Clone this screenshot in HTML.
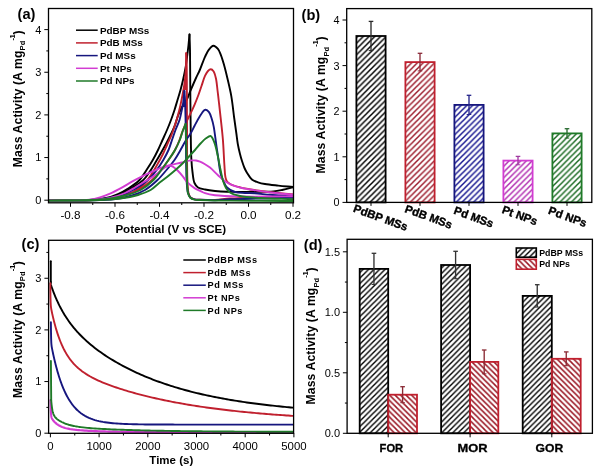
<!DOCTYPE html>
<html><head><meta charset="utf-8"><style>
html,body{margin:0;padding:0;background:#fff;}
svg{display:block;will-change:transform;}
text{font-family:"Liberation Sans",sans-serif;}
</style></head><body>
<svg width="600" height="470" viewBox="0 0 600 470">
<rect x="0" y="0" width="600" height="470" fill="#fff"/>
<defs>
<clipPath id="ca"><rect x="48.5" y="8.5" width="245" height="194.3"/></clipPath>
<clipPath id="cc"><rect x="48.6" y="240.3" width="245" height="193"/></clipPath>
</defs>
<g clip-path="url(#ca)" fill="none" stroke-linejoin="round" stroke-linecap="round">
<path d="M48.50,200.60C59.00,200.53 70.69,200.64 80.00,200.40C87.42,200.21 94.49,200.04 100.00,199.50C103.92,199.12 106.58,198.89 110.00,198.00C113.80,197.01 117.90,195.35 121.70,193.60C125.54,191.83 129.29,189.68 132.90,187.40C136.52,185.11 140.53,182.66 143.40,179.90C145.92,177.47 147.53,174.84 149.50,172.00C151.64,168.91 153.69,165.35 155.70,162.00C157.69,158.68 159.65,155.25 161.50,152.00C163.24,148.93 164.91,146.02 166.50,143.00C168.07,140.02 169.58,137.02 171.00,134.00C172.41,131.02 173.80,128.11 175.00,125.00C176.24,121.78 177.07,118.11 178.30,115.00C179.42,112.15 180.59,109.52 182.00,107.00C183.37,104.56 185.24,102.65 186.60,100.10C188.11,97.27 189.07,94.06 190.50,90.70C192.16,86.78 194.31,81.73 196.00,78.00C197.36,75.01 198.48,73.03 199.80,70.00C201.48,66.13 203.37,60.30 205.10,56.60C206.39,53.85 207.38,51.49 208.90,49.60C210.21,47.97 211.87,45.77 213.40,45.70C214.87,45.63 216.68,47.45 217.90,48.90C219.29,50.54 220.04,52.88 221.00,55.30C222.18,58.27 223.18,61.89 224.20,65.50C225.33,69.51 226.32,73.67 227.40,78.30C228.67,83.74 230.20,89.84 231.30,96.10C232.51,103.00 233.30,111.39 234.20,118.00C234.95,123.47 235.66,128.39 236.30,133.00C236.85,136.95 237.17,140.43 237.80,144.00C238.41,147.43 239.24,150.97 240.00,154.00C240.64,156.55 241.25,158.68 242.00,161.00C242.75,163.35 243.58,165.89 244.50,168.00C245.30,169.84 246.00,171.25 247.10,173.00C248.45,175.15 250.21,178.23 252.20,179.80C253.92,181.15 255.95,181.61 258.00,182.30C260.19,183.03 262.28,183.51 265.00,184.00C268.71,184.67 273.75,185.11 278.30,185.60C283.07,186.11 288.10,186.53 293.00,187.00" stroke="#000" stroke-width="1.9"/>
<path d="M293.00,187.30C289.67,188.10 286.30,189.01 283.00,189.70C279.80,190.37 277.39,191.02 273.50,191.40C267.43,191.99 257.79,191.73 250.00,191.80C242.29,191.87 233.43,192.01 227.00,191.80C222.35,191.65 218.81,191.41 215.00,191.00C211.51,190.62 208.02,190.15 205.00,189.50C202.44,188.94 199.79,188.71 198.00,187.50C196.41,186.43 195.38,184.97 194.50,183.00C193.27,180.25 193.02,175.90 192.50,172.00C191.92,167.63 191.59,163.47 191.30,158.00C190.89,150.27 190.86,140.16 190.70,130.00C190.51,117.85 190.42,103.33 190.30,90.00C190.18,76.67 190.20,60.23 190.00,50.00C189.87,43.63 189.67,39.67 189.50,34.50" stroke="#000" stroke-width="1.9"/>
<path d="M189.50,34.50C189.17,38.00 188.87,41.54 188.50,45.00C188.14,48.38 187.76,51.45 187.30,55.00C186.78,59.05 186.23,63.77 185.50,68.00C184.79,72.09 183.87,76.19 183.00,80.00C182.20,83.49 181.41,86.68 180.50,90.00C179.58,93.34 178.50,96.67 177.50,100.00C176.50,103.33 175.58,106.68 174.50,110.00C173.41,113.35 172.24,116.68 171.00,120.00C169.75,123.35 168.41,126.68 167.00,130.00C165.58,133.35 164.00,136.67 162.50,140.00C161.00,143.33 159.60,146.69 158.00,150.00C156.37,153.36 154.69,156.71 152.80,160.00C150.86,163.37 148.70,166.69 146.50,170.00C144.27,173.36 142.34,177.04 139.50,180.00C136.55,183.07 132.63,185.64 129.00,188.00C125.46,190.30 121.90,192.31 118.00,194.00C113.92,195.77 109.86,197.28 105.00,198.30C99.11,199.54 92.67,199.79 85.00,200.20C74.66,200.75 60.67,200.47 48.50,200.60" stroke="#000" stroke-width="1.9"/>
<path d="M48.50,200.60C59.00,200.53 70.69,200.62 80.00,200.40C87.42,200.23 93.35,200.25 100.00,199.60C106.69,198.95 113.59,198.14 120.00,196.50C126.24,194.91 132.55,192.86 138.00,190.00C143.16,187.29 148.01,183.56 152.00,180.00C155.53,176.85 158.21,173.40 161.00,170.00C163.69,166.73 166.14,163.37 168.50,160.00C170.80,156.70 173.14,153.41 175.00,150.00C176.78,146.73 178.16,143.36 179.50,140.00C180.82,136.69 181.70,133.32 183.00,130.00C184.33,126.62 186.01,122.91 187.40,119.90C188.55,117.42 189.57,115.58 190.70,113.20C191.97,110.52 193.34,107.56 194.60,104.60C195.91,101.50 197.23,98.16 198.40,95.00C199.52,91.96 200.42,89.10 201.50,86.00C202.65,82.68 203.81,78.41 205.10,75.70C206.02,73.77 206.89,72.10 208.00,71.00C208.85,70.15 209.89,69.27 210.80,69.30C211.72,69.33 212.75,70.19 213.50,71.20C214.63,72.72 215.26,75.56 215.90,78.30C216.74,81.89 217.08,86.82 217.60,91.00C218.11,95.05 218.52,98.82 219.00,103.00C219.52,107.58 220.03,112.08 220.60,117.40C221.31,124.02 222.28,132.03 222.90,139.70C223.56,147.86 223.91,158.12 224.40,165.00C224.74,169.74 224.75,173.99 225.40,177.00C225.81,178.89 226.09,180.26 227.00,181.50C227.94,182.77 229.31,183.63 231.00,184.50C233.32,185.69 236.41,186.43 240.00,187.30C245.17,188.56 252.80,189.75 259.20,190.70C265.56,191.65 272.35,192.34 278.30,193.00C283.52,193.58 288.10,194.00 293.00,194.50" stroke="#c0202e" stroke-width="1.9"/>
<path d="M293.00,196.50C282.00,196.73 270.74,196.85 260.00,197.20C249.76,197.53 238.28,197.91 230.00,198.50C224.14,198.92 220.01,199.78 215.00,200.00C210.01,200.22 203.77,200.00 200.00,199.80C197.71,199.68 196.16,199.73 194.50,199.30C193.03,198.91 191.49,198.50 190.50,197.50C189.45,196.44 189.00,194.94 188.50,193.00C187.69,189.84 187.67,185.92 187.40,180.00C186.82,167.30 187.13,140.00 187.00,120.00C186.87,100.00 186.93,70.13 186.60,60.00C186.49,56.56 186.33,55.40 186.20,53.10" stroke="#c0202e" stroke-width="1.9"/>
<path d="M186.20,53.10C186.13,57.07 186.15,61.21 186.00,65.00C185.87,68.48 185.68,71.67 185.40,75.00C185.12,78.34 184.78,81.67 184.30,85.00C183.82,88.34 183.13,91.67 182.50,95.00C181.87,98.34 181.25,101.68 180.50,105.00C179.75,108.34 178.91,111.68 178.00,115.00C177.08,118.34 176.08,121.68 175.00,125.00C173.91,128.35 172.82,131.69 171.50,135.00C170.16,138.36 168.50,141.67 167.00,145.00C165.50,148.33 164.15,151.70 162.50,155.00C160.82,158.37 158.91,161.68 157.00,165.00C155.07,168.35 153.27,171.74 151.00,175.00C148.63,178.42 146.04,182.14 143.00,185.00C140.03,187.79 136.70,190.11 133.00,192.00C129.08,194.00 124.86,195.29 120.00,196.50C114.11,197.96 106.69,198.95 100.00,199.60C93.35,200.25 87.42,200.23 80.00,200.40C70.69,200.62 59.00,200.53 48.50,200.60" stroke="#c0202e" stroke-width="1.9"/>
<polygon points="186.2,53.1 186.0,65 185.4,75 184.3,85 183.6,90 186.9,90 186.8,75 186.6,60" fill="#c0202e" stroke="none"/>
<path d="M48.50,200.60C62.33,200.53 77.91,200.77 90.00,200.40C99.39,200.11 107.50,199.98 115.00,199.00C121.24,198.19 126.79,197.12 132.00,195.50C136.70,194.04 140.87,192.46 145.00,190.00C149.40,187.38 153.80,183.49 157.50,180.00C160.89,176.80 163.64,173.38 166.50,170.00C169.30,166.71 172.13,163.42 174.50,160.00C176.77,156.74 178.62,153.26 180.50,150.00C182.27,146.94 183.75,143.85 185.50,141.00C187.16,138.30 189.16,135.91 190.70,133.30C192.18,130.80 193.21,128.31 194.60,125.70C196.10,122.89 197.72,119.67 199.40,117.00C200.93,114.57 202.95,111.24 204.20,110.30C204.73,109.90 205.05,109.73 205.60,109.80C206.51,109.92 208.05,111.01 209.00,112.20C210.26,113.78 211.02,116.64 211.80,119.00C212.60,121.43 213.10,123.52 213.70,126.60C214.61,131.23 215.39,138.58 216.20,144.20C216.95,149.37 217.79,154.77 218.40,159.10C218.87,162.45 219.13,165.22 219.60,168.00C220.01,170.48 220.37,172.89 221.00,175.00C221.55,176.83 222.16,178.19 223.00,180.00C224.06,182.27 225.06,185.52 227.00,187.50C229.01,189.56 232.08,191.08 235.00,192.00C238.06,192.97 241.71,192.78 245.00,193.00C248.18,193.21 250.88,193.07 254.40,193.30C258.95,193.59 264.29,194.31 270.00,194.80C276.92,195.39 285.33,195.93 293.00,196.50" stroke="#16167e" stroke-width="1.9"/>
<path d="M293.00,197.80C282.00,198.03 270.74,198.24 260.00,198.50C249.76,198.75 238.28,198.94 230.00,199.30C224.14,199.55 220.00,200.12 215.00,200.20C210.00,200.28 203.77,199.99 200.00,199.80C197.71,199.69 196.18,199.83 194.50,199.40C192.97,199.01 191.37,198.52 190.30,197.50C189.18,196.43 188.58,194.96 188.00,193.00C187.06,189.85 186.95,185.75 186.60,180.00C185.91,168.75 186.11,144.55 185.80,130.00C185.56,118.73 185.33,107.08 185.00,100.00C184.82,96.12 184.60,94.00 184.40,91.00" stroke="#16167e" stroke-width="1.9"/>
<path d="M184.40,91.00C184.20,93.00 184.02,94.92 183.80,97.00C183.56,99.24 183.35,101.76 183.00,104.00C182.67,106.08 182.28,107.75 181.80,110.00C181.17,112.91 180.53,116.71 179.50,120.00C178.44,123.37 176.75,126.65 175.50,130.00C174.26,133.32 173.17,136.67 172.00,140.00C170.83,143.33 169.92,146.72 168.50,150.00C167.04,153.39 165.23,156.72 163.30,160.00C161.31,163.39 159.17,166.75 156.70,170.00C154.10,173.42 151.41,176.95 148.00,180.00C144.28,183.33 139.62,186.43 135.00,189.00C130.30,191.61 125.46,193.82 120.00,195.50C113.91,197.37 106.69,198.48 100.00,199.30C93.36,200.11 87.42,200.17 80.00,200.40C70.69,200.69 59.00,200.53 48.50,200.60" stroke="#16167e" stroke-width="1.9"/>
<polygon points="184.4,91 183.8,97 183.0,104 182.4,107 185.6,107 185.3,100 184.9,94" fill="#16167e" stroke="none"/>
<path d="M48.50,200.60C59.00,200.53 72.43,200.65 80.00,200.40C84.27,200.26 86.69,200.31 90.00,199.80C93.36,199.28 96.69,198.32 100.00,197.30C103.36,196.26 106.60,195.07 110.00,193.60C113.72,191.99 117.62,189.94 121.40,187.90C125.26,185.81 129.07,183.31 132.90,181.20C136.63,179.15 140.43,177.21 144.10,175.40C147.59,173.69 151.21,172.01 154.40,170.60C157.11,169.40 159.32,168.33 162.00,167.40C164.87,166.41 167.95,165.69 171.10,164.90C174.47,164.05 178.77,163.23 181.60,162.50C183.55,162.00 184.81,161.45 186.50,161.10C188.27,160.74 190.31,160.49 192.00,160.40C193.44,160.33 194.68,160.30 196.00,160.50C197.35,160.70 198.62,161.06 200.00,161.60C201.61,162.23 203.36,163.22 205.00,164.20C206.70,165.21 208.20,166.15 210.00,167.60C212.43,169.56 215.39,172.85 218.00,175.20C220.38,177.35 222.34,179.43 225.00,181.20C227.93,183.15 231.59,184.96 235.00,186.20C238.27,187.39 241.37,187.87 245.00,188.60C249.26,189.46 253.97,190.17 259.00,190.90C264.84,191.75 272.03,192.66 278.00,193.30C283.29,193.86 288.00,194.17 293.00,194.60" stroke="#d23cd2" stroke-width="1.9"/>
<path d="M293.00,196.30C285.33,196.37 277.83,196.47 270.00,196.50C261.84,196.54 253.71,196.67 245.00,196.50C235.45,196.31 222.29,196.21 215.00,195.30C210.75,194.77 207.40,193.99 205.00,193.20C203.57,192.73 203.01,192.32 201.70,191.70C199.76,190.77 196.83,189.60 194.50,188.10C191.98,186.48 189.20,184.27 187.20,182.20C185.47,180.41 184.49,178.44 183.00,176.60C181.46,174.70 179.80,172.68 178.10,171.00C176.52,169.44 174.87,167.70 173.20,166.80C171.83,166.06 170.43,165.46 169.00,165.60C167.37,165.76 165.75,167.06 164.00,168.20C161.80,169.64 159.37,172.06 157.00,173.80C154.70,175.49 152.36,177.04 150.00,178.50C147.69,179.93 145.40,181.07 143.00,182.50C140.41,184.05 137.84,185.83 135.00,187.50C131.88,189.33 128.75,191.36 125.00,193.00C120.58,194.93 115.43,196.80 110.00,198.00C103.88,199.36 97.89,199.82 90.00,200.30C78.68,200.99 62.33,200.50 48.50,200.60" stroke="#d23cd2" stroke-width="1.9"/>
<path d="M48.50,200.60C64.00,200.47 81.89,200.70 95.00,200.20C104.62,199.83 112.38,199.50 120.00,198.50C126.52,197.65 132.60,196.58 138.00,195.00C142.64,193.64 147.08,192.06 150.60,190.00C153.55,188.27 155.40,186.06 158.00,184.00C160.84,181.74 164.02,179.40 167.00,177.00C170.02,174.57 173.22,171.95 176.00,169.50C178.51,167.29 180.80,165.21 183.00,163.00C185.12,160.87 187.00,158.67 189.00,156.50C191.00,154.33 193.02,152.23 195.00,150.00C197.02,147.73 199.04,145.06 201.00,143.00C202.69,141.23 204.29,139.50 206.00,138.30C207.47,137.27 209.36,135.79 210.50,136.00C211.38,136.16 211.86,137.17 212.50,138.20C213.55,139.90 214.52,142.80 215.40,145.70C216.55,149.49 217.50,154.86 218.40,159.10C219.21,162.92 219.85,166.45 220.60,170.00C221.32,173.41 221.84,176.89 222.80,180.00C223.68,182.85 224.65,185.81 226.00,188.00C227.13,189.83 228.16,191.27 230.00,192.50C232.44,194.14 236.03,195.12 240.00,196.00C245.46,197.21 252.49,197.49 260.00,198.00C269.62,198.66 282.00,198.80 293.00,199.20" stroke="#1f7a28" stroke-width="1.9"/>
<path d="M293.00,201.00C282.00,200.93 270.74,200.87 260.00,200.80C249.76,200.73 238.28,200.66 230.00,200.60C224.14,200.56 220.00,200.60 215.00,200.50C210.00,200.40 203.77,200.17 200.00,200.00C197.72,199.90 196.19,200.15 194.50,199.70C192.90,199.28 191.18,198.61 190.10,197.50C189.01,196.38 188.51,194.95 188.00,193.00C187.17,189.84 187.27,185.52 187.00,180.00C186.53,170.32 186.50,150.33 186.20,140.00C186.01,133.46 185.80,129.33 185.60,124.00" stroke="#1f7a28" stroke-width="1.9"/>
<path d="M185.60,124.00C184.53,126.67 183.37,129.32 182.40,132.00C181.44,134.65 180.91,137.22 179.80,140.00C178.52,143.19 176.84,146.72 175.00,150.00C173.09,153.40 170.76,156.69 168.50,160.00C166.20,163.36 163.78,166.69 161.30,170.00C158.78,173.36 156.67,176.85 153.50,180.00C149.90,183.58 145.25,187.42 140.50,190.00C135.75,192.59 130.56,194.00 125.00,195.50C118.82,197.17 112.07,198.48 105.00,199.30C97.16,200.21 88.82,200.18 80.00,200.40C70.11,200.65 59.00,200.53 48.50,200.60" stroke="#1f7a28" stroke-width="1.9"/>
</g>
<rect x="48.50" y="8.50" width="245.00" height="194.30" stroke="#000" fill="none" stroke-width="1.3" />
<line x1="70.50" y1="202.80" x2="70.50" y2="206.80" stroke="#000" stroke-width="1" />
<text x="70.50" y="219.00" font-size="11.7" text-anchor="middle" font-weight="normal" fill="#000" >-0.8</text>
<line x1="92.75" y1="202.80" x2="92.75" y2="205.00" stroke="#000" stroke-width="1" />
<line x1="115.00" y1="202.80" x2="115.00" y2="206.80" stroke="#000" stroke-width="1" />
<text x="115.00" y="219.00" font-size="11.7" text-anchor="middle" font-weight="normal" fill="#000" >-0.6</text>
<line x1="137.25" y1="202.80" x2="137.25" y2="205.00" stroke="#000" stroke-width="1" />
<line x1="159.50" y1="202.80" x2="159.50" y2="206.80" stroke="#000" stroke-width="1" />
<text x="159.50" y="219.00" font-size="11.7" text-anchor="middle" font-weight="normal" fill="#000" >-0.4</text>
<line x1="181.75" y1="202.80" x2="181.75" y2="205.00" stroke="#000" stroke-width="1" />
<line x1="204.00" y1="202.80" x2="204.00" y2="206.80" stroke="#000" stroke-width="1" />
<text x="204.00" y="219.00" font-size="11.7" text-anchor="middle" font-weight="normal" fill="#000" >-0.2</text>
<line x1="226.25" y1="202.80" x2="226.25" y2="205.00" stroke="#000" stroke-width="1" />
<line x1="248.50" y1="202.80" x2="248.50" y2="206.80" stroke="#000" stroke-width="1" />
<text x="248.50" y="219.00" font-size="11.7" text-anchor="middle" font-weight="normal" fill="#000" >0.0</text>
<line x1="270.75" y1="202.80" x2="270.75" y2="205.00" stroke="#000" stroke-width="1" />
<line x1="293.00" y1="202.80" x2="293.00" y2="206.80" stroke="#000" stroke-width="1" />
<text x="293.00" y="219.00" font-size="11.7" text-anchor="middle" font-weight="normal" fill="#000" >0.2</text>
<line x1="44.30" y1="200.20" x2="48.50" y2="200.20" stroke="#000" stroke-width="1" />
<text x="41.30" y="204.10" font-size="11" text-anchor="end" font-weight="normal" fill="#000" >0</text>
<line x1="46.30" y1="178.88" x2="48.50" y2="178.88" stroke="#000" stroke-width="1" />
<line x1="44.30" y1="157.55" x2="48.50" y2="157.55" stroke="#000" stroke-width="1" />
<text x="41.30" y="161.45" font-size="11" text-anchor="end" font-weight="normal" fill="#000" >1</text>
<line x1="46.30" y1="136.22" x2="48.50" y2="136.22" stroke="#000" stroke-width="1" />
<line x1="44.30" y1="114.90" x2="48.50" y2="114.90" stroke="#000" stroke-width="1" />
<text x="41.30" y="118.80" font-size="11" text-anchor="end" font-weight="normal" fill="#000" >2</text>
<line x1="46.30" y1="93.57" x2="48.50" y2="93.57" stroke="#000" stroke-width="1" />
<line x1="44.30" y1="72.25" x2="48.50" y2="72.25" stroke="#000" stroke-width="1" />
<text x="41.30" y="76.15" font-size="11" text-anchor="end" font-weight="normal" fill="#000" >3</text>
<line x1="46.30" y1="50.92" x2="48.50" y2="50.92" stroke="#000" stroke-width="1" />
<line x1="44.30" y1="29.60" x2="48.50" y2="29.60" stroke="#000" stroke-width="1" />
<text x="41.30" y="33.50" font-size="11" text-anchor="end" font-weight="normal" fill="#000" >4</text>
<text x="170.80" y="233.00" font-size="11.6" text-anchor="middle" font-weight="bold" fill="#000" >Potential (V vs SCE)</text>
<text transform="translate(21.80,98.80) rotate(-90)" x="0" y="0" font-size="12.2" font-weight="bold" text-anchor="middle" letter-spacing="0.1">Mass Activity (A mg<tspan font-size="7.6" dy="3.6">Pd</tspan><tspan font-size="7.8" dy="-10.3" letter-spacing="-0.4">-1</tspan><tspan dy="6.7">)</tspan></text>
<text x="17.60" y="19.20" font-size="14.6" text-anchor="start" font-weight="bold" fill="#000" >(a)</text>
<line x1="76.00" y1="30.20" x2="97.70" y2="30.20" stroke="#000" stroke-width="1.5" />
<text x="100.00" y="33.60" font-size="9.9" text-anchor="start" font-weight="bold" fill="#000" >PdBP MSs</text>
<line x1="76.00" y1="42.90" x2="97.70" y2="42.90" stroke="#c0202e" stroke-width="1.5" />
<text x="100.00" y="46.30" font-size="9.9" text-anchor="start" font-weight="bold" fill="#000" >PdB MSs</text>
<line x1="76.00" y1="55.60" x2="97.70" y2="55.60" stroke="#16167e" stroke-width="1.5" />
<text x="100.00" y="59.00" font-size="9.9" text-anchor="start" font-weight="bold" fill="#000" >Pd MSs</text>
<line x1="76.00" y1="68.30" x2="97.70" y2="68.30" stroke="#d23cd2" stroke-width="1.5" />
<text x="100.00" y="71.70" font-size="9.9" text-anchor="start" font-weight="bold" fill="#000" >Pt NPs</text>
<line x1="76.00" y1="81.00" x2="97.70" y2="81.00" stroke="#1f7a28" stroke-width="1.5" />
<text x="100.00" y="84.40" font-size="9.9" text-anchor="start" font-weight="bold" fill="#000" >Pd NPs</text>
<defs><pattern id="hb0" patternUnits="userSpaceOnUse" x="3.0" y="0" width="5.75" height="5.75"><path d="M-1,1 L1,-1 M0,5.75 L5.75,0 M4.75,6.75 L6.75,4.75" stroke="#000" stroke-width="1.5" fill="none"/></pattern></defs>
<defs><pattern id="hb1" patternUnits="userSpaceOnUse" x="3.0" y="0" width="5.75" height="5.75"><path d="M-1,1 L1,-1 M0,5.75 L5.75,0 M4.75,6.75 L6.75,4.75" stroke="#9c1c2c" stroke-width="1.5" fill="none"/></pattern></defs>
<defs><pattern id="hb2" patternUnits="userSpaceOnUse" x="3.0" y="0" width="5.75" height="5.75"><path d="M-1,1 L1,-1 M0,5.75 L5.75,0 M4.75,6.75 L6.75,4.75" stroke="#161690" stroke-width="1.5" fill="none"/></pattern></defs>
<defs><pattern id="hb3" patternUnits="userSpaceOnUse" x="3.0" y="0" width="5.75" height="5.75"><path d="M-1,1 L1,-1 M0,5.75 L5.75,0 M4.75,6.75 L6.75,4.75" stroke="#b02cb0" stroke-width="1.5" fill="none"/></pattern></defs>
<defs><pattern id="hb4" patternUnits="userSpaceOnUse" x="3.0" y="0" width="5.75" height="5.75"><path d="M-1,1 L1,-1 M0,5.75 L5.75,0 M4.75,6.75 L6.75,4.75" stroke="#1a6a22" stroke-width="1.5" fill="none"/></pattern></defs>
<rect x="356.40" y="36.00" width="29.20" height="166.40" fill="url(#hb0)" stroke="none"/>
<rect x="356.40" y="36.00" width="29.20" height="166.40" fill="none" stroke="#000" stroke-width="1.8"/>
<rect x="405.40" y="62.10" width="29.20" height="140.30" fill="url(#hb1)" stroke="none"/>
<rect x="405.40" y="62.10" width="29.20" height="140.30" fill="none" stroke="#c0202e" stroke-width="1.8"/>
<rect x="454.40" y="104.90" width="29.20" height="97.50" fill="url(#hb2)" stroke="none"/>
<rect x="454.40" y="104.90" width="29.20" height="97.50" fill="none" stroke="#16167e" stroke-width="1.8"/>
<rect x="503.40" y="160.60" width="29.20" height="41.80" fill="url(#hb3)" stroke="none"/>
<rect x="503.40" y="160.60" width="29.20" height="41.80" fill="none" stroke="#d23cd2" stroke-width="1.8"/>
<rect x="552.40" y="133.40" width="29.20" height="69.00" fill="url(#hb4)" stroke="none"/>
<rect x="552.40" y="133.40" width="29.20" height="69.00" fill="none" stroke="#1f7a28" stroke-width="1.8"/>
<line x1="371.00" y1="21.40" x2="371.00" y2="50.60" stroke="#2a2a2a" stroke-width="1.35" />
<line x1="368.70" y1="21.40" x2="373.30" y2="21.40" stroke="#2a2a2a" stroke-width="1.3" />
<line x1="368.70" y1="50.60" x2="373.30" y2="50.60" stroke="#2a2a2a" stroke-width="1.0" />
<line x1="420.00" y1="53.30" x2="420.00" y2="70.90" stroke="#8a2a38" stroke-width="1.35" />
<line x1="417.70" y1="53.30" x2="422.30" y2="53.30" stroke="#8a2a38" stroke-width="1.3" />
<line x1="417.70" y1="70.90" x2="422.30" y2="70.90" stroke="#8a2a38" stroke-width="1.0" />
<line x1="469.00" y1="95.30" x2="469.00" y2="114.50" stroke="#24248a" stroke-width="1.35" />
<line x1="466.70" y1="95.30" x2="471.30" y2="95.30" stroke="#24248a" stroke-width="1.3" />
<line x1="466.70" y1="114.50" x2="471.30" y2="114.50" stroke="#24248a" stroke-width="1.0" />
<line x1="518.00" y1="156.40" x2="518.00" y2="164.80" stroke="#a03aa0" stroke-width="1.35" />
<line x1="515.70" y1="156.40" x2="520.30" y2="156.40" stroke="#a03aa0" stroke-width="1.3" />
<line x1="515.70" y1="164.80" x2="520.30" y2="164.80" stroke="#a03aa0" stroke-width="1.0" />
<line x1="567.00" y1="128.70" x2="567.00" y2="138.10" stroke="#2a6a30" stroke-width="1.35" />
<line x1="564.70" y1="128.70" x2="569.30" y2="128.70" stroke="#2a6a30" stroke-width="1.3" />
<line x1="564.70" y1="138.10" x2="569.30" y2="138.10" stroke="#2a6a30" stroke-width="1.0" />
<rect x="346.70" y="8.60" width="245.10" height="193.80" stroke="#000" fill="none" stroke-width="1.3" />
<line x1="342.50" y1="202.40" x2="346.70" y2="202.40" stroke="#000" stroke-width="1" />
<text x="339.60" y="206.30" font-size="10.8" text-anchor="end" font-weight="normal" fill="#000" >0</text>
<line x1="344.50" y1="179.60" x2="346.70" y2="179.60" stroke="#000" stroke-width="1" />
<line x1="342.50" y1="156.80" x2="346.70" y2="156.80" stroke="#000" stroke-width="1" />
<text x="339.60" y="160.70" font-size="10.8" text-anchor="end" font-weight="normal" fill="#000" >1</text>
<line x1="344.50" y1="134.00" x2="346.70" y2="134.00" stroke="#000" stroke-width="1" />
<line x1="342.50" y1="111.20" x2="346.70" y2="111.20" stroke="#000" stroke-width="1" />
<text x="339.60" y="115.10" font-size="10.8" text-anchor="end" font-weight="normal" fill="#000" >2</text>
<line x1="344.50" y1="88.40" x2="346.70" y2="88.40" stroke="#000" stroke-width="1" />
<line x1="342.50" y1="65.60" x2="346.70" y2="65.60" stroke="#000" stroke-width="1" />
<text x="339.60" y="69.50" font-size="10.8" text-anchor="end" font-weight="normal" fill="#000" >3</text>
<line x1="344.50" y1="42.80" x2="346.70" y2="42.80" stroke="#000" stroke-width="1" />
<line x1="342.50" y1="20.00" x2="346.70" y2="20.00" stroke="#000" stroke-width="1" />
<text x="339.60" y="23.90" font-size="10.8" text-anchor="end" font-weight="normal" fill="#000" >4</text>
<line x1="371.00" y1="202.40" x2="371.00" y2="205.90" stroke="#000" stroke-width="1" />
<line x1="420.00" y1="202.40" x2="420.00" y2="205.90" stroke="#000" stroke-width="1" />
<line x1="469.00" y1="202.40" x2="469.00" y2="205.90" stroke="#000" stroke-width="1" />
<line x1="518.00" y1="202.40" x2="518.00" y2="205.90" stroke="#000" stroke-width="1" />
<line x1="567.00" y1="202.40" x2="567.00" y2="205.90" stroke="#000" stroke-width="1" />
<text transform="translate(325.00,104.90) rotate(-90)" x="0" y="0" font-size="12.2" font-weight="bold" text-anchor="middle" letter-spacing="0.1">Mass Activity (A mg<tspan font-size="7.6" dy="3.6">Pd</tspan><tspan font-size="7.8" dy="-10.3" letter-spacing="-0.4">-1</tspan><tspan dy="6.7">)</tspan></text>
<text x="301.60" y="20.00" font-size="14.6" text-anchor="start" font-weight="bold" fill="#000" >(b)</text>
<text transform="translate(352.60,211.60) rotate(20)" font-size="11.4" font-weight="bold" stroke="#000" stroke-width="0.35">PdBP MSs</text>
<text transform="translate(404.00,212.00) rotate(20)" font-size="11.4" font-weight="bold" stroke="#000" stroke-width="0.35">PdB MSs</text>
<text transform="translate(453.00,213.60) rotate(20)" font-size="11.4" font-weight="bold" stroke="#000" stroke-width="0.35">Pd MSs</text>
<text transform="translate(501.20,212.80) rotate(20)" font-size="11.4" font-weight="bold" stroke="#000" stroke-width="0.35">Pt NPs</text>
<text transform="translate(547.60,213.60) rotate(20)" font-size="11.4" font-weight="bold" stroke="#000" stroke-width="0.35">Pd NPs</text>
<g clip-path="url(#cc)" fill="none" stroke-linejoin="round" stroke-linecap="round">
<path d="M50.80,261.20 L50.80,282.00" stroke="#000" stroke-width="1.9"/>
<path d="M50.80,282.00 L50.82,283.64 L50.84,284.29 L50.94,284.94 L51.14,285.53 L51.34,286.11 L51.54,286.69 L51.74,287.26 L52.00,287.99 L52.30,288.83 L52.60,289.65 L52.90,290.46 L53.20,291.26 L53.50,292.05 L53.80,292.83 L54.10,293.59 L54.40,294.35 L54.70,295.09 L55.00,295.82 L55.30,296.55 L55.60,297.26 L56.30,298.89 L56.80,300.02 L57.30,301.13 L57.80,302.21 L58.30,303.27 L58.80,304.30 L59.30,305.32 L59.80,306.31 L60.30,307.28 L60.80,308.23 L61.30,309.17 L61.80,310.08 L62.30,310.98 L62.80,311.86 L63.30,312.73 L63.80,313.57 L64.30,314.40 L64.80,315.22 L65.30,316.02 L65.80,316.81 L66.30,317.58 L66.80,318.34 L67.30,319.09 L67.80,319.82 L68.30,320.55 L68.80,321.26 L69.30,321.96 L69.80,322.65 L70.30,323.32 L70.80,323.99 L71.30,324.65 L71.80,325.29 L72.30,325.93 L72.80,326.56 L73.30,327.18 L73.80,327.79 L74.30,328.39 L74.80,328.98 L75.30,329.57 L75.80,330.15 L76.30,330.72 L76.80,331.28 L77.30,331.83 L77.80,332.38 L78.30,332.92 L78.80,333.46 L79.30,333.99 L79.80,334.51 L80.30,335.03 L80.80,335.54 L82.80,337.52 L84.80,339.42 L86.80,341.25 L88.80,343.00 L90.80,344.69 L92.80,346.32 L94.80,347.90 L96.80,349.43 L98.80,350.91 L100.80,352.34 L102.80,353.74 L104.80,355.10 L106.80,356.42 L108.80,357.70 L110.80,358.96 L112.80,360.18 L114.80,361.37 L116.80,362.53 L118.80,363.67 L120.80,364.78 L122.80,365.86 L124.80,366.92 L126.80,367.95 L128.80,368.97 L130.80,369.95 L132.80,370.92 L134.80,371.87 L136.80,372.79 L138.80,373.70 L140.80,374.58 L142.80,375.45 L144.80,376.30 L146.80,377.13 L148.80,377.94 L150.80,378.74 L152.80,379.52 L154.80,380.28 L156.80,381.02 L158.80,381.75 L160.80,382.47 L162.80,383.17 L164.80,383.85 L166.80,384.52 L168.80,385.18 L170.80,385.82 L172.80,386.45 L174.80,387.07 L176.80,387.67 L178.80,388.26 L180.80,388.84 L182.80,389.41 L184.80,389.96 L186.80,390.50 L188.80,391.03 L190.80,391.55 L192.80,392.06 L194.80,392.56 L196.80,393.05 L198.80,393.53 L200.80,394.00 L202.80,394.46 L204.80,394.90 L206.80,395.34 L208.80,395.77 L210.80,396.19 L212.80,396.61 L214.80,397.01 L216.80,397.41 L218.80,397.79 L220.80,398.17 L222.80,398.54 L224.80,398.91 L226.80,399.26 L228.80,399.61 L230.80,399.95 L232.80,400.29 L234.80,400.61 L236.80,400.93 L238.80,401.25 L240.80,401.55 L242.80,401.85 L244.80,402.15 L246.80,402.44 L248.80,402.72 L250.80,402.99 L252.80,403.26 L254.80,403.53 L256.80,403.79 L258.80,404.04 L260.80,404.29 L262.80,404.53 L264.80,404.77 L266.80,405.01 L268.80,405.23 L270.80,405.46 L272.80,405.68 L274.80,405.89 L276.80,406.10 L278.80,406.31 L280.80,406.51 L282.80,406.71 L284.80,406.90 L286.80,407.09 L288.80,407.27 L290.80,407.45 L292.80,407.63 L293.50,407.69" stroke="#000" stroke-width="1.9"/>
<path d="M50.30,283.30 L50.32,285.45 L50.34,287.40 L50.36,289.16 L50.38,290.77 L50.40,292.23 L50.42,293.56 L50.44,294.77 L50.46,295.87 L50.48,296.87 L50.50,297.79 L50.52,298.63 L50.54,299.39 L50.56,300.09 L50.58,300.74 L50.62,301.87 L50.66,302.83 L50.70,303.65 L50.74,304.36 L50.78,304.97 L50.84,305.75 L50.90,306.40 L50.98,307.13 L51.06,307.75 L51.16,308.41 L51.26,309.01 L51.40,309.77 L51.60,310.78 L51.80,311.74 L52.00,312.68 L52.20,313.60 L52.40,314.50 L52.60,315.39 L52.80,316.27 L53.00,317.13 L53.20,317.98 L53.40,318.82 L53.60,319.64 L53.80,320.45 L54.00,321.25 L54.20,322.04 L54.40,322.82 L54.60,323.58 L54.80,324.34 L55.00,325.08 L55.20,325.81 L55.80,327.94 L56.30,329.64 L56.80,331.28 L57.30,332.87 L57.80,334.39 L58.30,335.86 L58.80,337.29 L59.30,338.66 L59.80,339.98 L60.30,341.26 L60.80,342.49 L61.30,343.68 L61.80,344.83 L62.30,345.95 L62.80,347.02 L63.30,348.06 L63.80,349.07 L64.30,350.04 L64.80,350.98 L65.30,351.89 L65.80,352.78 L66.30,353.63 L66.80,354.46 L67.30,355.26 L67.80,356.04 L68.30,356.80 L68.80,357.53 L69.30,358.24 L69.80,358.94 L70.30,359.61 L70.80,360.26 L71.30,360.89 L71.80,361.51 L72.30,362.11 L72.80,362.69 L73.30,363.26 L73.80,363.81 L74.30,364.35 L74.80,364.87 L75.30,365.38 L75.80,365.88 L76.30,366.37 L76.80,366.84 L77.30,367.30 L77.80,367.76 L78.30,368.20 L78.80,368.63 L79.30,369.05 L79.80,369.46 L80.30,369.87 L82.30,371.40 L84.30,372.82 L86.30,374.13 L88.30,375.35 L90.30,376.50 L92.30,377.59 L94.30,378.61 L96.30,379.59 L98.30,380.52 L100.30,381.41 L102.30,382.26 L104.30,383.08 L106.30,383.88 L108.30,384.65 L110.30,385.39 L112.30,386.12 L114.30,386.82 L116.30,387.51 L118.30,388.18 L120.30,388.83 L122.30,389.46 L124.30,390.09 L126.30,390.70 L128.30,391.29 L130.30,391.87 L132.30,392.45 L134.30,393.00 L136.30,393.55 L138.30,394.09 L140.30,394.62 L142.30,395.13 L144.30,395.64 L146.30,396.14 L148.30,396.62 L150.30,397.10 L152.30,397.57 L154.30,398.03 L156.30,398.49 L158.30,398.93 L160.30,399.36 L162.30,399.79 L164.30,400.21 L166.30,400.62 L168.30,401.03 L170.30,401.43 L172.30,401.81 L174.30,402.20 L176.30,402.57 L178.30,402.94 L180.30,403.30 L182.30,403.66 L184.30,404.01 L186.30,404.35 L188.30,404.69 L190.30,405.02 L192.30,405.34 L194.30,405.66 L196.30,405.97 L198.30,406.28 L200.30,406.58 L202.30,406.87 L204.30,407.16 L206.30,407.45 L208.30,407.73 L210.30,408.00 L212.30,408.27 L214.30,408.54 L216.30,408.80 L218.30,409.05 L220.30,409.30 L222.30,409.55 L224.30,409.79 L226.30,410.03 L228.30,410.26 L230.30,410.49 L232.30,410.71 L234.30,410.93 L236.30,411.15 L238.30,411.36 L240.30,411.57 L242.30,411.77 L244.30,411.97 L246.30,412.17 L248.30,412.36 L250.30,412.55 L252.30,412.74 L254.30,412.92 L256.30,413.10 L258.30,413.28 L260.30,413.45 L262.30,413.62 L264.30,413.79 L266.30,413.96 L268.30,414.12 L270.30,414.27 L272.30,414.43 L274.30,414.58 L276.30,414.73 L278.30,414.88 L280.30,415.02 L282.30,415.16 L284.30,415.30 L286.30,415.44 L288.30,415.57 L290.30,415.71 L292.30,415.83 L293.50,415.91" stroke="#c0202e" stroke-width="1.9"/>
<path d="M50.90,322.30 L50.92,324.54 L50.94,326.56 L50.96,328.37 L50.98,330.01 L51.00,331.49 L51.02,332.82 L51.04,334.03 L51.06,335.12 L51.08,336.11 L51.10,337.00 L51.12,337.82 L51.14,338.56 L51.16,339.23 L51.18,339.84 L51.22,340.91 L51.26,341.82 L51.30,342.58 L51.34,343.23 L51.40,344.05 L51.46,344.73 L51.54,345.47 L51.62,346.10 L51.72,346.77 L51.82,347.37 L52.00,348.36 L52.20,349.38 L52.40,350.37 L52.60,351.35 L52.80,352.30 L53.00,353.25 L53.20,354.18 L53.40,355.09 L53.60,356.00 L53.80,356.90 L54.00,357.78 L54.20,358.65 L54.40,359.51 L54.60,360.36 L54.80,361.20 L55.00,362.02 L55.20,362.84 L55.40,363.64 L55.60,364.44 L55.80,365.22 L56.40,367.52 L56.90,369.36 L57.40,371.14 L57.90,372.87 L58.40,374.54 L58.90,376.16 L59.40,377.72 L59.90,379.23 L60.40,380.70 L60.90,382.11 L61.40,383.49 L61.90,384.81 L62.40,386.10 L62.90,387.34 L63.40,388.54 L63.90,389.71 L64.40,390.83 L64.90,391.92 L65.40,392.98 L65.90,394.00 L66.40,394.99 L66.90,395.94 L67.40,396.87 L67.90,397.76 L68.40,398.63 L68.90,399.47 L69.40,400.28 L69.90,401.07 L70.40,401.83 L70.90,402.56 L71.40,403.27 L71.90,403.96 L72.40,404.63 L72.90,405.27 L73.40,405.90 L73.90,406.50 L74.40,407.08 L74.90,407.65 L75.40,408.20 L75.90,408.73 L76.40,409.24 L76.90,409.73 L77.40,410.21 L77.90,410.68 L78.40,411.13 L78.90,411.56 L79.40,411.98 L79.90,412.39 L80.40,412.79 L80.90,413.17 L82.90,414.57 L84.90,415.81 L86.90,416.89 L88.90,417.84 L90.90,418.67 L92.90,419.40 L94.90,420.04 L96.90,420.60 L98.90,421.09 L100.90,421.52 L102.90,421.90 L104.90,422.23 L106.90,422.52 L108.90,422.78 L110.90,423.00 L112.90,423.20 L114.90,423.37 L116.90,423.52 L118.90,423.66 L120.90,423.77 L122.90,423.87 L124.90,423.96 L126.90,424.04 L128.90,424.11 L130.90,424.17 L132.90,424.22 L134.90,424.27 L136.90,424.31 L138.90,424.35 L140.90,424.38 L142.90,424.40 L144.90,424.43 L146.90,424.45 L148.90,424.47 L150.90,424.48 L152.90,424.50 L154.90,424.51 L156.90,424.52 L158.90,424.53 L160.90,424.54 L162.90,424.55 L164.90,424.55 L166.90,424.56 L168.90,424.56 L170.90,424.57 L172.90,424.57 L174.90,424.58 L176.90,424.58 L178.90,424.58 L180.90,424.58 L182.90,424.59 L184.90,424.59 L186.90,424.59 L188.90,424.59 L190.90,424.59 L192.90,424.59 L194.90,424.59 L196.90,424.59 L198.90,424.59 L200.90,424.60 L202.90,424.60 L204.90,424.60 L206.90,424.60 L208.90,424.60 L210.90,424.60 L212.90,424.60 L214.90,424.60 L216.90,424.60 L218.90,424.60 L220.90,424.60 L222.90,424.60 L224.90,424.60 L226.90,424.60 L228.90,424.60 L230.90,424.60 L232.90,424.60 L234.90,424.60 L236.90,424.60 L238.90,424.60 L240.90,424.60 L242.90,424.60 L244.90,424.60 L246.90,424.60 L248.90,424.60 L250.90,424.60 L252.90,424.60 L254.90,424.60 L256.90,424.60 L258.90,424.60 L260.90,424.60 L262.90,424.60 L264.90,424.60 L266.90,424.60 L268.90,424.60 L270.90,424.60 L272.90,424.60 L274.90,424.60 L276.90,424.60 L278.90,424.60 L280.90,424.60 L282.90,424.60 L284.90,424.60 L286.90,424.60 L288.90,424.60 L290.90,424.60 L292.90,424.60 L293.50,424.60" stroke="#16167e" stroke-width="1.9"/>
<path d="M50.60,400.00 L50.62,401.06 L50.64,402.06 L50.66,403.00 L50.68,403.88 L50.70,404.71 L50.72,405.49 L50.74,406.22 L50.76,406.91 L50.78,407.55 L50.80,408.16 L50.84,409.28 L50.88,410.27 L50.92,411.14 L50.96,411.92 L51.00,412.61 L51.04,413.23 L51.10,414.03 L51.16,414.71 L51.24,415.45 L51.32,416.06 L51.42,416.67 L51.56,417.32 L51.80,418.09 L52.10,418.75 L52.50,419.41 L52.90,419.97 L53.30,420.49 L53.70,420.97 L54.10,421.43 L54.60,421.97 L55.10,422.47 L55.60,422.94 L56.10,423.37 L56.60,423.79 L57.10,424.17 L57.60,424.53 L58.10,424.87 L59.10,425.48 L60.10,426.03 L61.10,426.51 L62.10,426.93 L63.10,427.31 L64.10,427.65 L65.10,427.95 L66.10,428.22 L67.10,428.46 L68.10,428.68 L69.10,428.88 L70.10,429.07 L71.10,429.23 L72.10,429.38 L73.10,429.52 L74.10,429.65 L75.10,429.77 L76.10,429.88 L77.10,429.98 L78.10,430.08 L79.10,430.17 L80.10,430.25 L82.60,430.44 L84.60,430.58 L86.60,430.70 L88.60,430.81 L90.60,430.91 L92.60,431.00 L94.60,431.09 L96.60,431.17 L98.60,431.24 L100.60,431.31 L102.60,431.37 L104.60,431.43 L106.60,431.48 L108.60,431.53 L110.60,431.58 L112.60,431.62 L114.60,431.67 L116.60,431.70 L118.60,431.74 L120.60,431.77 L122.60,431.81 L124.60,431.83 L126.60,431.86 L128.60,431.89 L130.60,431.91 L132.60,431.93 L134.60,431.95 L136.60,431.97 L138.60,431.99 L140.60,432.01 L142.60,432.03 L144.60,432.04 L146.60,432.05 L148.60,432.07 L150.60,432.08 L152.60,432.09 L154.60,432.10 L156.60,432.11 L158.60,432.12 L160.60,432.13 L162.60,432.14 L164.60,432.15 L166.60,432.15 L168.60,432.16 L170.60,432.17 L172.60,432.17 L174.60,432.18 L176.60,432.18 L178.60,432.19 L180.60,432.19 L182.60,432.20 L184.60,432.20 L186.60,432.20 L188.60,432.21 L190.60,432.21 L192.60,432.21 L194.60,432.22 L196.60,432.22 L198.60,432.22 L200.60,432.22 L202.60,432.23 L204.60,432.23 L206.60,432.23 L208.60,432.23 L210.60,432.23 L212.60,432.23 L214.60,432.24 L216.60,432.24 L218.60,432.24 L220.60,432.24 L222.60,432.24 L224.60,432.24 L226.60,432.24 L228.60,432.24 L230.60,432.24 L232.60,432.24 L234.60,432.25 L236.60,432.25 L238.60,432.25 L240.60,432.25 L242.60,432.25 L244.60,432.25 L246.60,432.25 L248.60,432.25 L250.60,432.25 L252.60,432.25 L254.60,432.25 L256.60,432.25 L258.60,432.25 L260.60,432.25 L262.60,432.25 L264.60,432.25 L266.60,432.25 L268.60,432.25 L270.60,432.25 L272.60,432.25 L274.60,432.25 L276.60,432.25 L278.60,432.25 L280.60,432.25 L282.60,432.25 L284.60,432.25 L286.60,432.25 L288.60,432.25 L290.60,432.25 L292.60,432.25 L293.50,432.25" stroke="#d23cd2" stroke-width="2.2"/>
<path d="M50.90,361.00 L51.20,400.00" stroke="#1f7a28" stroke-width="1.9"/>
<path d="M51.20,400.00 L51.26,400.82 L51.32,401.53 L51.38,402.21 L51.44,402.86 L51.50,403.48 L51.58,404.26 L51.66,405.00 L51.74,405.69 L51.82,406.34 L51.90,406.96 L52.00,407.67 L52.10,408.34 L52.20,408.96 L52.40,410.08 L52.60,411.05 L52.80,411.90 L53.00,412.64 L53.20,413.30 L53.40,413.88 L53.70,414.64 L54.00,415.28 L54.30,415.84 L54.70,416.48 L55.10,417.04 L55.50,417.52 L56.00,418.05 L56.70,418.71 L57.20,419.13 L57.70,419.52 L58.20,419.89 L58.70,420.23 L59.70,420.87 L60.70,421.46 L61.70,421.99 L62.70,422.48 L63.70,422.93 L64.70,423.35 L65.70,423.74 L66.70,424.09 L67.70,424.42 L68.70,424.73 L69.70,425.01 L70.70,425.27 L71.70,425.52 L72.70,425.75 L73.70,425.96 L74.70,426.16 L75.70,426.34 L76.70,426.52 L77.70,426.68 L78.70,426.84 L79.70,426.98 L80.70,427.12 L83.20,427.43 L85.20,427.65 L87.20,427.85 L89.20,428.03 L91.20,428.19 L93.20,428.35 L95.20,428.49 L97.20,428.62 L99.20,428.74 L101.20,428.86 L103.20,428.97 L105.20,429.07 L107.20,429.17 L109.20,429.26 L111.20,429.35 L113.20,429.44 L115.20,429.52 L117.20,429.60 L119.20,429.67 L121.20,429.75 L123.20,429.82 L125.20,429.88 L127.20,429.95 L129.20,430.01 L131.20,430.07 L133.20,430.13 L135.20,430.19 L137.20,430.24 L139.20,430.29 L141.20,430.35 L143.20,430.40 L145.20,430.44 L147.20,430.49 L149.20,430.53 L151.20,430.58 L153.20,430.62 L155.20,430.66 L157.20,430.70 L159.20,430.74 L161.20,430.78 L163.20,430.81 L165.20,430.85 L167.20,430.88 L169.20,430.91 L171.20,430.95 L173.20,430.98 L175.20,431.01 L177.20,431.03 L179.20,431.06 L181.20,431.09 L183.20,431.12 L185.20,431.14 L187.20,431.17 L189.20,431.19 L191.20,431.21 L193.20,431.24 L195.20,431.26 L197.20,431.28 L199.20,431.30 L201.20,431.32 L203.20,431.34 L205.20,431.36 L207.20,431.37 L209.20,431.39 L211.20,431.41 L213.20,431.43 L215.20,431.44 L217.20,431.46 L219.20,431.47 L221.20,431.49 L223.20,431.50 L225.20,431.51 L227.20,431.53 L229.20,431.54 L231.20,431.55 L233.20,431.56 L235.20,431.58 L237.20,431.59 L239.20,431.60 L241.20,431.61 L243.20,431.62 L245.20,431.63 L247.20,431.64 L249.20,431.65 L251.20,431.66 L253.20,431.66 L255.20,431.67 L257.20,431.68 L259.20,431.69 L261.20,431.70 L263.20,431.70 L265.20,431.71 L267.20,431.72 L269.20,431.73 L271.20,431.73 L273.20,431.74 L275.20,431.75 L277.20,431.75 L279.20,431.76 L281.20,431.76 L283.20,431.77 L285.20,431.77 L287.20,431.78 L289.20,431.78 L291.20,431.79 L293.20,431.79 L293.50,431.79" stroke="#1f7a28" stroke-width="1.9"/>
</g>
<rect x="48.60" y="240.30" width="245.00" height="193.00" stroke="#000" fill="none" stroke-width="1.3" />
<line x1="50.40" y1="433.30" x2="50.40" y2="437.30" stroke="#000" stroke-width="1" />
<text x="50.40" y="449.60" font-size="11.4" text-anchor="middle" font-weight="normal" fill="#000" >0</text>
<line x1="74.75" y1="433.30" x2="74.75" y2="435.50" stroke="#000" stroke-width="1" />
<line x1="99.10" y1="433.30" x2="99.10" y2="437.30" stroke="#000" stroke-width="1" />
<text x="99.10" y="449.60" font-size="11.4" text-anchor="middle" font-weight="normal" fill="#000" >1000</text>
<line x1="123.45" y1="433.30" x2="123.45" y2="435.50" stroke="#000" stroke-width="1" />
<line x1="147.80" y1="433.30" x2="147.80" y2="437.30" stroke="#000" stroke-width="1" />
<text x="147.80" y="449.60" font-size="11.4" text-anchor="middle" font-weight="normal" fill="#000" >2000</text>
<line x1="172.15" y1="433.30" x2="172.15" y2="435.50" stroke="#000" stroke-width="1" />
<line x1="196.50" y1="433.30" x2="196.50" y2="437.30" stroke="#000" stroke-width="1" />
<text x="196.50" y="449.60" font-size="11.4" text-anchor="middle" font-weight="normal" fill="#000" >3000</text>
<line x1="220.85" y1="433.30" x2="220.85" y2="435.50" stroke="#000" stroke-width="1" />
<line x1="245.20" y1="433.30" x2="245.20" y2="437.30" stroke="#000" stroke-width="1" />
<text x="245.20" y="449.60" font-size="11.4" text-anchor="middle" font-weight="normal" fill="#000" >4000</text>
<line x1="269.55" y1="433.30" x2="269.55" y2="435.50" stroke="#000" stroke-width="1" />
<line x1="293.90" y1="433.30" x2="293.90" y2="437.30" stroke="#000" stroke-width="1" />
<text x="293.90" y="449.60" font-size="11.4" text-anchor="middle" font-weight="normal" fill="#000" >5000</text>
<line x1="44.40" y1="433.20" x2="48.60" y2="433.20" stroke="#000" stroke-width="1" />
<text x="41.30" y="437.10" font-size="11" text-anchor="end" font-weight="normal" fill="#000" >0</text>
<line x1="46.40" y1="407.38" x2="48.60" y2="407.38" stroke="#000" stroke-width="1" />
<line x1="44.40" y1="381.55" x2="48.60" y2="381.55" stroke="#000" stroke-width="1" />
<text x="41.30" y="385.45" font-size="11" text-anchor="end" font-weight="normal" fill="#000" >1</text>
<line x1="46.40" y1="355.73" x2="48.60" y2="355.73" stroke="#000" stroke-width="1" />
<line x1="44.40" y1="329.90" x2="48.60" y2="329.90" stroke="#000" stroke-width="1" />
<text x="41.30" y="333.80" font-size="11" text-anchor="end" font-weight="normal" fill="#000" >2</text>
<line x1="46.40" y1="304.07" x2="48.60" y2="304.07" stroke="#000" stroke-width="1" />
<line x1="44.40" y1="278.25" x2="48.60" y2="278.25" stroke="#000" stroke-width="1" />
<text x="41.30" y="282.15" font-size="11" text-anchor="end" font-weight="normal" fill="#000" >3</text>
<line x1="46.40" y1="252.42" x2="48.60" y2="252.42" stroke="#000" stroke-width="1" />
<text x="171.30" y="463.80" font-size="11.5" text-anchor="middle" font-weight="bold" fill="#000" >Time (s)</text>
<text transform="translate(21.80,329.50) rotate(-90)" x="0" y="0" font-size="12.2" font-weight="bold" text-anchor="middle" letter-spacing="0.1">Mass Activity (A mg<tspan font-size="7.6" dy="3.6">Pd</tspan><tspan font-size="7.8" dy="-10.3" letter-spacing="-0.4">-1</tspan><tspan dy="6.7">)</tspan></text>
<text x="21.60" y="249.20" font-size="14.6" text-anchor="start" font-weight="bold" fill="#000" >(c)</text>
<line x1="183.30" y1="260.00" x2="205.80" y2="260.00" stroke="#000" stroke-width="1.5" />
<text x="207.50" y="263.10" font-size="9.2" text-anchor="start" font-weight="bold" fill="#000" letter-spacing="0.55" >PdBP MSs</text>
<line x1="183.30" y1="272.60" x2="205.80" y2="272.60" stroke="#c0202e" stroke-width="1.5" />
<text x="207.50" y="275.70" font-size="9.2" text-anchor="start" font-weight="bold" fill="#000" letter-spacing="0.55" >PdB MSs</text>
<line x1="183.30" y1="285.20" x2="205.80" y2="285.20" stroke="#16167e" stroke-width="1.5" />
<text x="207.50" y="288.30" font-size="9.2" text-anchor="start" font-weight="bold" fill="#000" letter-spacing="0.55" >Pd MSs</text>
<line x1="183.30" y1="297.80" x2="205.80" y2="297.80" stroke="#d23cd2" stroke-width="1.5" />
<text x="207.50" y="300.90" font-size="9.2" text-anchor="start" font-weight="bold" fill="#000" letter-spacing="0.55" >Pt NPs</text>
<line x1="183.30" y1="310.40" x2="205.80" y2="310.40" stroke="#1f7a28" stroke-width="1.5" />
<text x="207.50" y="313.50" font-size="9.2" text-anchor="start" font-weight="bold" fill="#000" letter-spacing="0.55" >Pd NPs</text>
<defs><pattern id="hdk" patternUnits="userSpaceOnUse" x="0" y="0" width="5.5" height="5.5"><path d="M-1,1 L1,-1 M0,5.5 L5.5,0 M4.5,6.5 L6.5,4.5" stroke="#000" stroke-width="1.4" fill="none"/></pattern></defs>
<defs><pattern id="hdr" patternUnits="userSpaceOnUse" x="0" y="0" width="5.5" height="5.5"><path d="M-1,4.5 L1,6.5 M0,0 L5.5,5.5 M4.5,-1 L6.5,1" stroke="#9a1824" stroke-width="1.5" fill="none"/></pattern></defs>
<rect x="359.70" y="268.90" width="28.50" height="164.40" fill="url(#hdk)" stroke="none"/>
<rect x="359.70" y="268.90" width="28.50" height="164.40" fill="none" stroke="#000" stroke-width="1.8"/>
<rect x="441.10" y="265.00" width="29.00" height="168.30" fill="url(#hdk)" stroke="none"/>
<rect x="441.10" y="265.00" width="29.00" height="168.30" fill="none" stroke="#000" stroke-width="1.8"/>
<rect x="522.70" y="295.90" width="29.10" height="137.40" fill="url(#hdk)" stroke="none"/>
<rect x="522.70" y="295.90" width="29.10" height="137.40" fill="none" stroke="#000" stroke-width="1.8"/>
<rect x="388.20" y="394.70" width="28.80" height="38.60" fill="url(#hdr)" stroke="none"/>
<rect x="388.20" y="394.70" width="28.80" height="38.60" fill="none" stroke="#c0202e" stroke-width="1.8"/>
<rect x="470.10" y="361.90" width="28.20" height="71.40" fill="url(#hdr)" stroke="none"/>
<rect x="470.10" y="361.90" width="28.20" height="71.40" fill="none" stroke="#c0202e" stroke-width="1.8"/>
<rect x="551.80" y="358.80" width="28.90" height="74.50" fill="url(#hdr)" stroke="none"/>
<rect x="551.80" y="358.80" width="28.90" height="74.50" fill="none" stroke="#c0202e" stroke-width="1.8"/>
<line x1="373.95" y1="253.30" x2="373.95" y2="284.50" stroke="#333" stroke-width="1.35" />
<line x1="371.65" y1="253.30" x2="376.25" y2="253.30" stroke="#333" stroke-width="1.3" />
<line x1="371.65" y1="284.50" x2="376.25" y2="284.50" stroke="#333" stroke-width="1.0" />
<line x1="455.60" y1="251.30" x2="455.60" y2="278.70" stroke="#333" stroke-width="1.35" />
<line x1="453.30" y1="251.30" x2="457.90" y2="251.30" stroke="#333" stroke-width="1.3" />
<line x1="453.30" y1="278.70" x2="457.90" y2="278.70" stroke="#333" stroke-width="1.0" />
<line x1="537.25" y1="284.70" x2="537.25" y2="307.10" stroke="#333" stroke-width="1.35" />
<line x1="534.95" y1="284.70" x2="539.55" y2="284.70" stroke="#333" stroke-width="1.3" />
<line x1="534.95" y1="307.10" x2="539.55" y2="307.10" stroke="#333" stroke-width="1.0" />
<line x1="402.60" y1="386.70" x2="402.60" y2="402.70" stroke="#8a2a34" stroke-width="1.35" />
<line x1="400.30" y1="386.70" x2="404.90" y2="386.70" stroke="#8a2a34" stroke-width="1.3" />
<line x1="400.30" y1="402.70" x2="404.90" y2="402.70" stroke="#8a2a34" stroke-width="1.0" />
<line x1="484.20" y1="350.00" x2="484.20" y2="373.80" stroke="#8a2a34" stroke-width="1.35" />
<line x1="481.90" y1="350.00" x2="486.50" y2="350.00" stroke="#8a2a34" stroke-width="1.3" />
<line x1="481.90" y1="373.80" x2="486.50" y2="373.80" stroke="#8a2a34" stroke-width="1.0" />
<line x1="566.25" y1="351.90" x2="566.25" y2="365.70" stroke="#8a2a34" stroke-width="1.35" />
<line x1="563.95" y1="351.90" x2="568.55" y2="351.90" stroke="#8a2a34" stroke-width="1.3" />
<line x1="563.95" y1="365.70" x2="568.55" y2="365.70" stroke="#8a2a34" stroke-width="1.0" />
<rect x="347.10" y="239.30" width="245.30" height="194.00" stroke="#000" fill="none" stroke-width="1.3" />
<line x1="342.90" y1="433.30" x2="347.10" y2="433.30" stroke="#000" stroke-width="1" />
<text x="340.00" y="437.20" font-size="11" text-anchor="end" font-weight="normal" fill="#000" >0.0</text>
<line x1="344.90" y1="403.05" x2="347.10" y2="403.05" stroke="#000" stroke-width="1" />
<line x1="342.90" y1="372.80" x2="347.10" y2="372.80" stroke="#000" stroke-width="1" />
<text x="340.00" y="376.70" font-size="11" text-anchor="end" font-weight="normal" fill="#000" >0.5</text>
<line x1="344.90" y1="342.55" x2="347.10" y2="342.55" stroke="#000" stroke-width="1" />
<line x1="342.90" y1="312.30" x2="347.10" y2="312.30" stroke="#000" stroke-width="1" />
<text x="340.00" y="316.20" font-size="11" text-anchor="end" font-weight="normal" fill="#000" >1.0</text>
<line x1="344.90" y1="282.05" x2="347.10" y2="282.05" stroke="#000" stroke-width="1" />
<line x1="342.90" y1="251.80" x2="347.10" y2="251.80" stroke="#000" stroke-width="1" />
<text x="340.00" y="255.70" font-size="11" text-anchor="end" font-weight="normal" fill="#000" >1.5</text>
<line x1="388.20" y1="433.30" x2="388.20" y2="437.30" stroke="#000" stroke-width="1" />
<line x1="470.10" y1="433.30" x2="470.10" y2="437.30" stroke="#000" stroke-width="1" />
<line x1="551.80" y1="433.30" x2="551.80" y2="437.30" stroke="#000" stroke-width="1" />
<text x="391.40" y="451.60" font-size="11.2" text-anchor="middle" font-weight="bold" fill="#000" textLength="23.6" lengthAdjust="spacingAndGlyphs" stroke="#000" stroke-width="0.3">FOR</text>
<text x="472.60" y="451.60" font-size="11.2" text-anchor="middle" font-weight="bold" fill="#000" textLength="30.0" lengthAdjust="spacingAndGlyphs" stroke="#000" stroke-width="0.3">MOR</text>
<text x="549.40" y="451.60" font-size="11.2" text-anchor="middle" font-weight="bold" fill="#000" textLength="27.6" lengthAdjust="spacingAndGlyphs" stroke="#000" stroke-width="0.3">GOR</text>
<text transform="translate(315.00,335.90) rotate(-90)" x="0" y="0" font-size="12.2" font-weight="bold" text-anchor="middle" letter-spacing="0.1">Mass Activity (A mg<tspan font-size="7.6" dy="3.6">Pd</tspan><tspan font-size="7.8" dy="-10.3" letter-spacing="-0.4">-1</tspan><tspan dy="6.7">)</tspan></text>
<text x="303.80" y="249.80" font-size="14.6" text-anchor="start" font-weight="bold" fill="#000" >(d)</text>
<rect x="516.30" y="248.00" width="20.00" height="9.20" fill="url(#hdk)" stroke="none"/>
<rect x="516.30" y="248.00" width="20.00" height="9.20" fill="none" stroke="#000" stroke-width="1.6"/>
<rect x="516.30" y="259.30" width="20.00" height="9.90" fill="url(#hdr)" stroke="none"/>
<rect x="516.30" y="259.30" width="20.00" height="9.90" fill="none" stroke="#c0202e" stroke-width="1.6"/>
<text x="539.20" y="255.60" font-size="8.8" text-anchor="start" font-weight="bold" fill="#000" >PdBP MSs</text>
<text x="539.20" y="267.20" font-size="8.8" text-anchor="start" font-weight="bold" fill="#000" >Pd NPs</text>
</svg></body></html>
